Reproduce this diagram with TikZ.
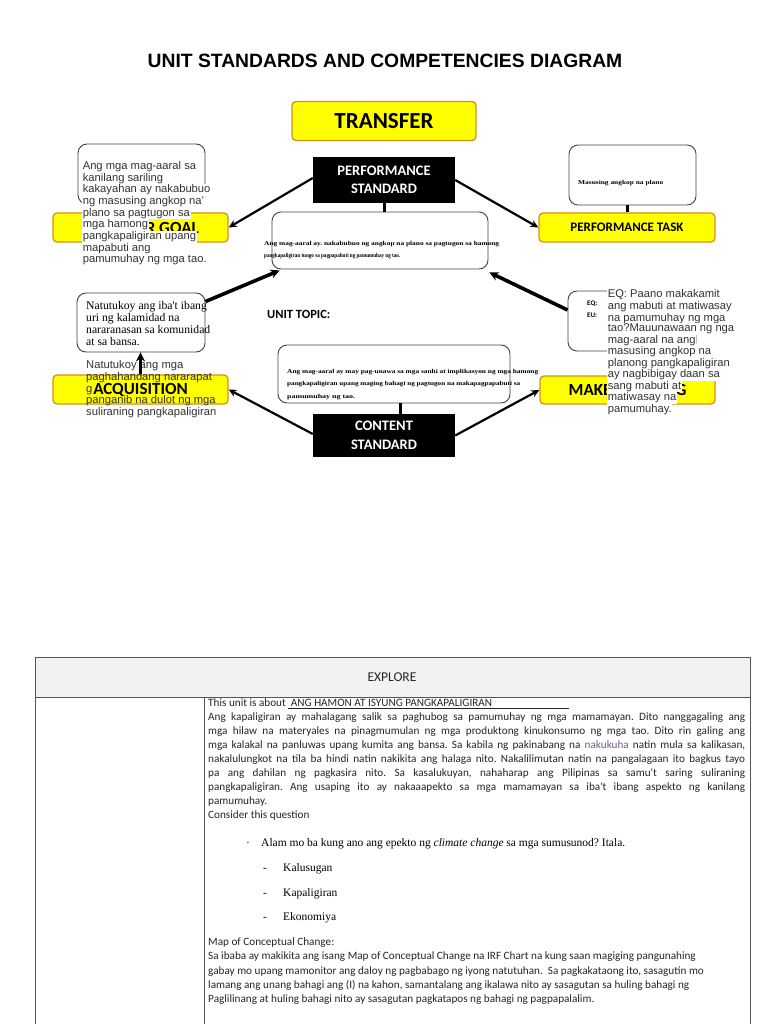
\documentclass[tikz,border=0pt]{standalone}
\usepackage{fontspec}
\usepackage{graphicx}
\usetikzlibrary{arrows.meta,calc}
\newfontfamily\fArial{Liberation Sans}
\newfontfamily\fCal{Carlito}
\newfontfamily\fTimes{Liberation Serif}
\definecolor{ybox}{HTML}{FFFF00}
\definecolor{yedge}{HTML}{D8901A}
\definecolor{boxedge}{HTML}{444444}
\definecolor{txt}{HTML}{333333}
\definecolor{tblline}{HTML}{555555}
\definecolor{hdr}{HTML}{F2F2F2}
\definecolor{linkc}{HTML}{6E5F80}
\frenchspacing
\begin{document}
\frenchspacing
\begin{tikzpicture}[x=1pt,y=-1pt,
  ybox/.style={draw=yedge, line width=1.3pt, fill=ybox, rounded corners=4pt,
    font=\fCal\bfseries\fontsize{17}{17}\selectfont, inner sep=0pt},
  bbox/.style={fill=black, text=white, align=center, inner sep=0pt,
    font=\fCal\bfseries\fontsize{14.5}{18.5}\selectfont},
  wbox/.style={draw=boxedge, line width=0.9pt, fill=white, rounded corners=9pt},
  hl/.style={fill=white, anchor=west, inner xsep=0.6pt, inner ysep=0pt,
    text height=8.6pt, text depth=3.1pt, text=txt,
    font=\fArial\fontsize{11.2}{12}\selectfont},
  sline/.style={anchor=west, inner sep=0pt, text height=8.6pt, text depth=3.1pt,
    text=txt, font=\fArial\fontsize{11.2}{12}\selectfont},
  serline/.style={anchor=west, inner sep=0pt, text height=8.6pt, text depth=3.1pt,
    font=\fTimes\fontsize{11.7}{12}\selectfont},
  tiny/.style={anchor=west, inner sep=0pt, font=\fTimes\bfseries\fontsize{6}{6}\selectfont},
  arr/.style={line width=2.2pt, -{Stealth[length=8pt,width=7.5pt]}},
  thickarr/.style={line width=3.6pt, -{Stealth[length=9pt,width=9pt]}},
  stub/.style={line width=3pt},
  tbl/.style={anchor=west, inner sep=0pt, text height=8pt, text depth=2.5pt,
    text=black!85, font=\fCal\fontsize{11.2}{13}\selectfont\frenchspacing},
  ser/.style={anchor=west, inner sep=0pt, text height=8pt, text depth=2.5pt,
    font=\fTimes\fontsize{11.5}{13}\selectfont\frenchspacing}
]
\useasboundingbox (0,0) rectangle (768,1024);
\fill[white] (0,0) rectangle (768,1024);

% title
\node[font=\fArial\bfseries\fontsize{19.3}{20}\selectfont] (title) at (385,61)
  {UNIT STANDARDS AND COMPETENCIES DIAGRAM};

% top boxes
\node[ybox, minimum width=184pt, minimum height=39pt, font=\fCal\bfseries\fontsize{23}{23}\selectfont]
  (transfer) at (384,121) {TRANSFER};
\node[bbox, minimum width=142pt, minimum height=46pt] (ps) at (384,180) {PERFORMANCE\\STANDARD};
\node[wbox, minimum width=216pt, minimum height=57pt] (pst) at (380,240.5) {};
\node[tiny] (pst1) at (264,244) {\resizebox{235pt}{\height}{Ang mag-aaral ay. nakabubuo ng angkop na plano sa pagtugon sa hamong}};
\node[tiny] (pst2) at (264,256.5) {\resizebox{136pt}{\height}{pangkapaligiran tungo sa pagpapabuti ng pamumuhay ng tao.}};

% transfer goal (left top)
\node[wbox, minimum width=127pt, minimum height=60pt] (tgbox) at (141.5,174) {};
\node[ybox, minimum width=175pt, minimum height=29pt] (tg) at (140.5,227.5) {TRANSFER GOAL};
\foreach \myy/\mytext [count=\i] in {166.7/Ang mga mag-aaral sa, 178.3/kanilang sariling,
  190/kakayahan ay nakabubuo, 201.7/ng masusing angkop na’, 213.3/plano sa pagtugon sa,
  225/mga hamong, 236.7/pangkapaligiran upang, 248.3/mapabuti ang, 260/pamumuhay ng mga tao.}
  \node[hl] (tgl\i) at (82,\myy) {\mytext};

% performance task (right top)
\node[wbox, minimum width=127pt, minimum height=60pt] (ptbox) at (632.5,175) {};
\node[tiny] (ptt) at (578,183) {\resizebox{85pt}{\height}{Masusing angkop na plano}};
\node[ybox, minimum width=176pt, minimum height=29pt, font=\fCal\bfseries\fontsize{13}{13}\selectfont]
  (pt) at (627,227.5) {PERFORMANCE TASK};

% unit topic
\node[anchor=west, inner sep=0pt, font=\fCal\bfseries\fontsize{12.5}{13}\selectfont] (topic) at (267,314) {UNIT TOPIC:};

% acquisition (left middle)
\node[wbox, minimum width=128pt, minimum height=59pt] (acqbox) at (141,322.5) {};
\foreach \myy/\mytext [count=\i] in {307/Natutukoy ang iba't ibang, 319/uri ng kalamidad na,
  331/nararanasan sa komunidad, 343/at sa bansa.}
  \node[serline] (acl\i) at (86,\myy) {\mytext};
\node[ybox, minimum width=175pt, minimum height=29pt] (acq) at (140.5,389.5) {ACQUISITION};
\foreach \myy/\mytext [count=\i] in {366/Natutukoy ang mga, 377.7/paghahandang nararapat,
  389.3/g, 401/panganib na dulot ng mga, 412.7/suliraning pangkapaligiran}
  \node[sline] (aql\i) at (86,\myy) {\mytext};

% making meaning (right middle)
\node[wbox, minimum width=128pt, minimum height=60pt] (eqbox) at (632,321) {};
\node[ybox, minimum width=175pt, minimum height=28pt] (mm) at (627.5,390) {MAKE MEANING};
\node[anchor=west, inner sep=0pt, font=\fCal\bfseries\fontsize{7}{7}\selectfont] (eqlab) at (587,304) {EQ:};
\node[anchor=west, inner sep=0pt, font=\fCal\bfseries\fontsize{7}{7}\selectfont] (eulab) at (587,315) {EU:};
\foreach \myy/\mytext [count=\i] in {295/EQ: Paano makakamit, 306.7/ang mabuti at matiwasay,
  318.3/na pamumuhay ng mga, 328.8/tao?Mauunawaan ng nga, 340.5/mag-aaral na ang,
  352/masusing angkop na, 363.5/planong pangkapaligiran, 375/ay nagbibigay daan sa,
  386.5/sang mabuti at, 398/matiwasay na, 409.5/pamumuhay.}
  \node[hl] (eql\i) at (607,\myy) {\mytext};

% content standard (bottom)
\node[wbox, minimum width=232pt, minimum height=58pt] (csbox) at (394,374) {};
\node[tiny] (cst1) at (287,371.7) {\resizebox{251pt}{\height}{Ang mag-aaral ay may pag-unawa sa mga sanhi at implikasyon ng mga hamong}};
\node[tiny] (cst2) at (287,384.5) {\resizebox{233pt}{\height}{pangkapaligiran upang maging bahagi ng pagtugon na makapagpapabuti sa}};
\node[tiny] (cst3) at (287,396.7) {\resizebox{68pt}{\height}{pamumuhay ng tao.}};
\node[bbox, minimum width=142pt, minimum height=43pt] (cs) at (384,435.5) {CONTENT\\STANDARD};

% connectors
\draw[arr] ([yshift=2pt]ps.west) -- (tg.east);
\draw[arr] (ps.east) -- (pt.west);
\draw[stub] (ps.south) -- (ps.south |- pst.north);
\draw[stub] (pt.north) -- (pt.north |- ptbox.south);
\draw[thickarr] ($(acqbox.north east)+(0,9)$) -- ($(pst.south west)+(8,1)$);
\draw[thickarr] ($(eqbox.west)+(0,-11)$) -- ($(pst.south east)+(1,3)$);
\draw[thickarr] (acq.north) -- (acq.north |- acqbox.south);
\draw[arr] ([yshift=1.5pt]cs.west) -- (acq.east);
\draw[arr] (cs.east) -- (mm.west);
\draw[stub] ([xshift=16pt]cs.north) -- ([xshift=16pt]cs.north |- csbox.south);

% table
\fill[hdr] (35,657) rectangle (750,697);
\draw[tblline, line width=1pt] (35,1030) -- (35,657) -- (750,657) -- (750,1030);
\draw[tblline, line width=1pt] (35,697) -- (750,697);
\draw[tblline, line width=1pt] (204,697) -- (204,1030);
\node[font=\fCal\fontsize{13.5}{14}\selectfont, text=black!85] (explore) at (392,677) {EXPLORE};

\node[tbl] (t0) at (208,704) {This unit is about \underline{\makebox[281pt][l]{\ ANG HAMON AT ISYUNG PANGKAPALIGIRAN}}};
\node[tbl] (t1) at (208,717.5) {\makebox[537pt][s]{Ang kapaligiran ay mahalagang salik sa paghubog sa pamumuhay ng mga mamamayan. Dito nanggagaling ang}};
\node[tbl] (t2) at (208,731.6) {\makebox[537pt][s]{mga hilaw na materyales na pinagmumulan ng mga produktong kinukonsumo ng mga tao. Dito rin galing ang}};
\node[tbl] (t3) at (208,745.7) {\makebox[537pt][s]{mga kalakal na panluwas upang kumita ang bansa. Sa kabila ng pakinabang na \textcolor{linkc}{nakukuha} natin mula sa kalikasan,}};
\node[tbl] (t4) at (208,759.8) {\makebox[537pt][s]{nakalulungkot na tila ba hindi natin nakikita ang halaga nito. Nakalilimutan natin na pangalagaan ito bagkus tayo}};
\node[tbl] (t5) at (208,773.9) {\makebox[537pt][s]{pa ang dahilan ng pagkasira nito. Sa kasalukuyan, nahaharap ang Pilipinas sa samu't saring suliraning}};
\node[tbl] (t6) at (208,788) {\makebox[537pt][s]{pangkapaligiran. Ang usaping ito ay nakaaapekto sa mga mamamayan sa iba't ibang aspekto ng kanilang}};
\node[tbl] (t7) at (208,802.1) {pamumuhay.};
\node[tbl] (t8) at (208,816.2) {Consider this question};
\node[ser] (b0) at (246,844) {·};
\node[ser] (b1) at (261,844) {Alam mo ba kung ano ang epekto ng \textit{climate change} sa mga sumusunod? Itala.};
\node[ser] (d1) at (263,869) {-};
\node[ser] (k1) at (283,869) {Kalusugan};
\node[ser] (d2) at (263,894) {-};
\node[ser] (k2) at (283,894) {Kapaligiran};
\node[ser] (d3) at (263,918) {-};
\node[ser] (k3) at (283,918) {Ekonomiya};
\node[tbl] (m0) at (208,943) {Map of Conceptual Change:};
\node[tbl] (m1) at (208,957.2) {Sa ibaba ay makikita ang isang Map of Conceptual Change na IRF Chart na kung saan magiging pangunahing};
\node[tbl] (m2) at (208,971.5) {gabay mo upang mamonitor ang daloy ng pagbabago ng iyong natutuhan.\ \ Sa pagkakataong ito, sasagutin mo};
\node[tbl] (m3) at (208,985.7) {lamang ang unang bahagi ang (I) na kahon, samantalang ang ikalawa nito ay sasagutan sa huling bahagi ng};
\node[tbl] (m4) at (208,1000) {Paglilinang at huling bahagi nito ay sasagutan pagkatapos ng bahagi ng pagpapalalim.};
\end{tikzpicture}
\end{document}
